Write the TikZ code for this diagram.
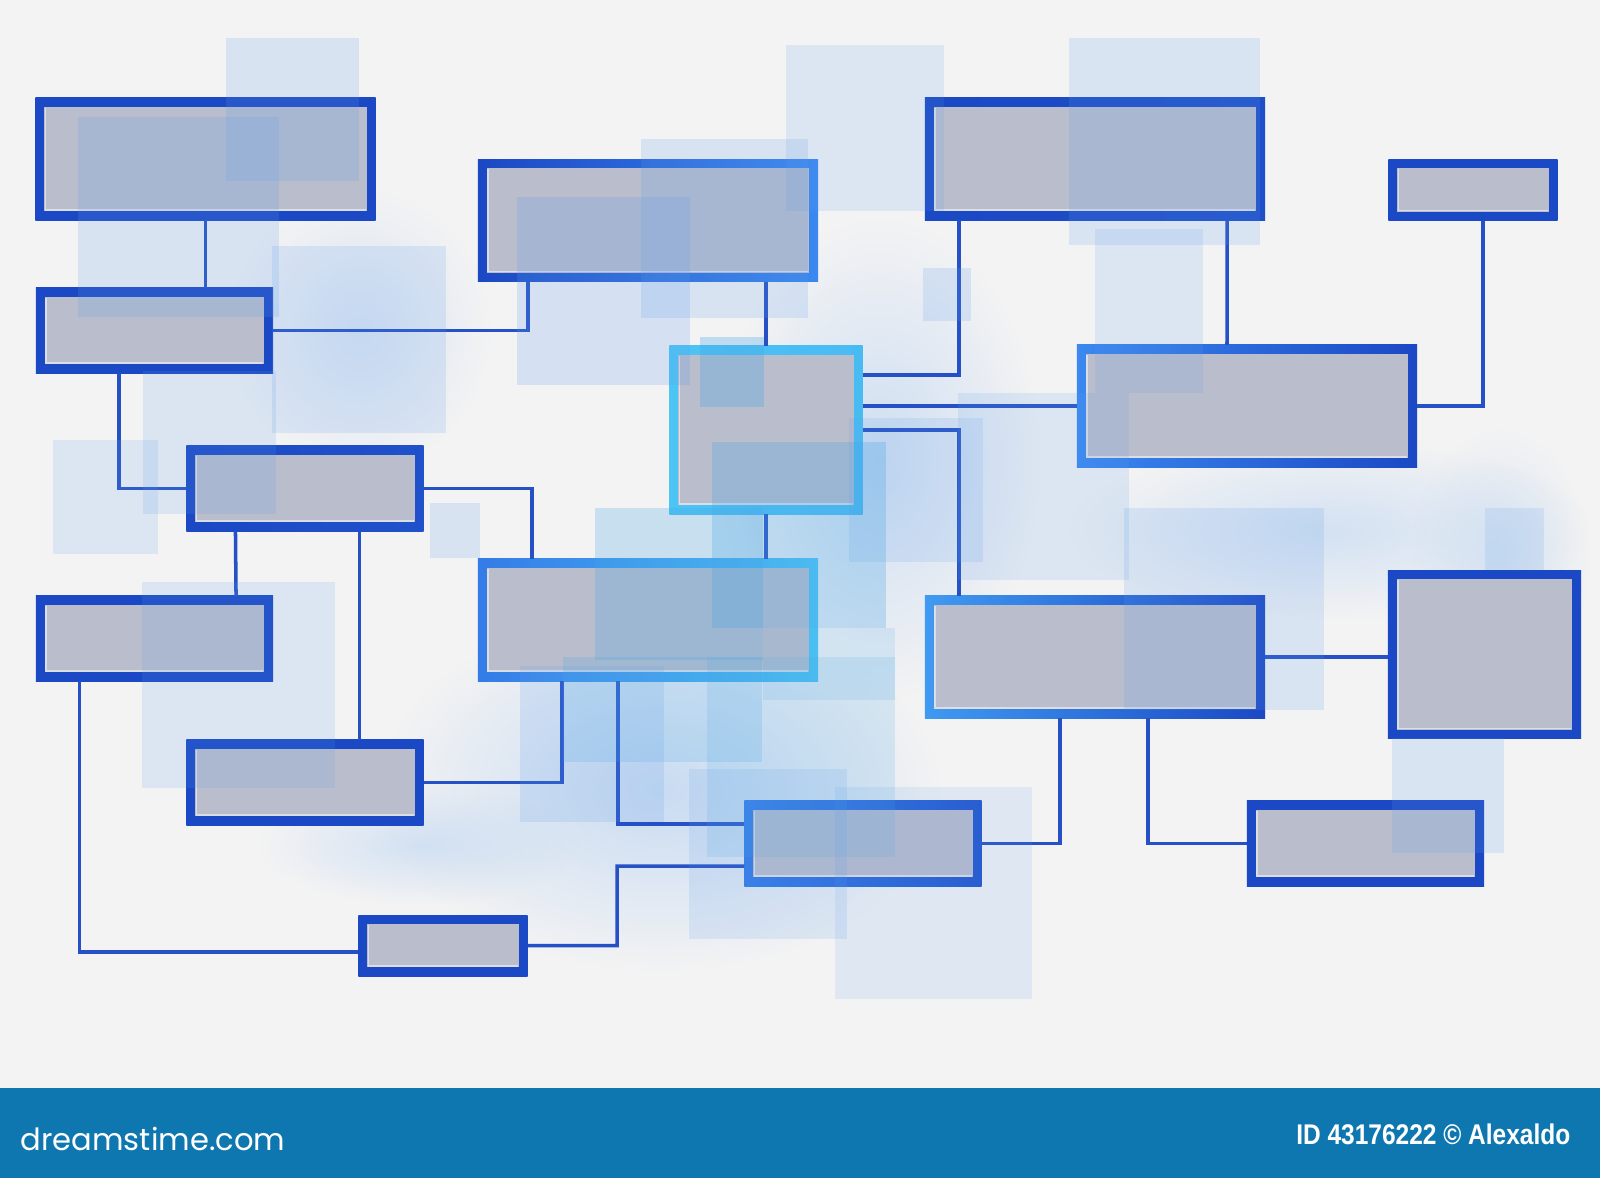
\documentclass[tikz,border=0pt]{standalone}
\usepackage{fontspec}
\usepackage{graphicx}
\usetikzlibrary{fadings}

\definecolor{paper}{HTML}{F3F3F4}
\definecolor{boxgray}{HTML}{B9BDCC}
\definecolor{deepblue}{HTML}{1B48C4}
\definecolor{midblue}{HTML}{3A88F0}
\definecolor{skyblue}{HTML}{4CC4F4}
\definecolor{linkblue}{HTML}{2651C6}
\definecolor{tintblue}{HTML}{5E9CEB}
\definecolor{tintcyan}{HTML}{4AA6E6}
\definecolor{hazeblue}{HTML}{BED6F2}
\definecolor{footblue}{HTML}{0F77B0}
\newfontfamily\logofont{Poppins}
\newfontfamily\idfont{Liberation Sans}
\tikzfading[name=glowfade, inner color=transparent!0, outer color=transparent!100]

\tikzset{
	flowbox/.style 2 args={rectangle, inner sep=0pt, outer sep=0pt,
		left color=#1, right color=#2,
		path picture={
			\fill[boxgray] ([shift={(0.09cm,0.09cm)}]path picture bounding box.south west)
				rectangle ([shift={(-0.09cm,-0.09cm)}]path picture bounding box.north east);
			\draw[white, opacity=0.5, line width=0.5pt]
				([shift={(0.1cm,-0.1cm)}]path picture bounding box.north west)
				|- ([shift={(-0.1cm,0.1cm)}]path picture bounding box.south east);
		}},
	bigbox/.style={minimum width=3.40cm, minimum height=1.22cm},
	midbox/.style={minimum width=2.37cm, minimum height=0.85cm},
	smallbox/.style={minimum width=1.69cm, minimum height=0.61cm},
	squarebox/.style={minimum width=1.93cm, minimum height=1.68cm},
	link/.style={draw=linkblue, line width=1pt},
	haze/.style={fill=hazeblue, path fading=glowfade},
}

\begin{document}
\begin{tikzpicture}[x=0.01cm, y=-0.01cm]
	\useasboundingbox (0,0) rectangle (1600,1178);
	\fill[paper] (0,0) rectangle (1600,1088);

	% soft glow behind the chart
	\fill[haze, opacity=0.8] (660,790) ellipse (280 and 180);
	\fill[haze, opacity=0.7] (880,460) ellipse (160 and 240);
	\fill[haze, opacity=0.6] (1330,530) ellipse (260 and 90);
	\fill[haze, opacity=0.6] (420,845) ellipse (160 and 60);
	\fill[haze, opacity=0.5] (1500,560) ellipse (90 and 130);
	\fill[haze, opacity=0.5] (360,330) ellipse (130 and 140);

	% boxes
	\node[flowbox={deepblue}{deepblue}, bigbox] (BOX_A) at (205.5,159) {};
	\node[flowbox={deepblue}{midblue}, bigbox] (BOX_B) at (648,220.5) {};
	\node[flowbox={deepblue}{deepblue}, midbox] (BOX_C) at (154.5,330.5) {};
	\node[flowbox={deepblue}{deepblue!85!midblue}, midbox] (BOX_D) at (305,488.5) {};
	\node[flowbox={skyblue}{skyblue!85!midblue}, squarebox] (BOX_E) at (766,430) {};
	\node[flowbox={midblue!80!deepblue}{skyblue}, bigbox] (BOX_F) at (648,620) {};
	\node[flowbox={deepblue}{deepblue!90!midblue}, bigbox] (BOX_G) at (1095,159) {};
	\node[flowbox={deepblue}{deepblue}, smallbox] (BOX_H) at (1473,190) {};
	\node[flowbox={midblue}{deepblue}, bigbox] (BOX_I) at (1247,406) {};
	\node[flowbox={midblue!70!skyblue}{deepblue}, bigbox] (BOX_J) at (1095,657) {};
	\node[flowbox={deepblue}{deepblue}, midbox] (BOX_K) at (154.5,638.5) {};
	\node[flowbox={deepblue}{deepblue}, midbox] (BOX_L) at (305,782.5) {};
	\node[flowbox={deepblue}{deepblue}, smallbox] (BOX_M) at (443,945.5) {};
	\node[flowbox={midblue!80!deepblue}{deepblue!80!midblue}, midbox] (BOX_N) at (863,843.5) {};
	\node[flowbox={deepblue}{deepblue}, squarebox] (BOX_O) at (1484.5,654.5) {};
	\node[flowbox={deepblue}{deepblue}, midbox] (BOX_P) at (1365.5,843.5) {};
	\coordinate (BEND_MN) at (617,866);

	% connectors
	\draw[link] (BOX_A.south) -- (BOX_A.south |- BOX_C.north);
	\draw[link] (BOX_C.east) -| ([xshift=0.50cm]BOX_B.south west);
	\draw[link] ([xshift=0.83cm]BOX_C.south west) |- (BOX_D.west);
	\draw[link] (BOX_B.south -| BOX_E.north) -- (BOX_E.north);
	\draw[link] (BOX_D.east) -| ([xshift=0.54cm]BOX_F.north west);
	\draw[link] (BOX_E.south) -- (BOX_E.south |- BOX_F.north);
	\draw[link] ([xshift=0.34cm]BOX_G.south west) |- ([yshift=-0.29cm]BOX_E.north east);
	\draw[link] (BOX_E.east |- BOX_I.west) -- (BOX_I.west);
	\draw[link] (BOX_E.east) -| ([xshift=0.34cm]BOX_J.north west);
	\draw[link] ([xshift=1.32cm]BOX_G.south) -- ([xshift=-0.20cm]BOX_I.north);
	\draw[link] ([xshift=0.10cm]BOX_H.south) |- (BOX_I.east);
	\draw[link] ([xshift=0.49cm]BOX_D.south west) -- ([xshift=-0.37cm]BOX_K.north east);
	\draw[link] ([xshift=1.73cm]BOX_D.south west) -- ([xshift=1.73cm]BOX_L.north west);
	\draw[link] ([xshift=0.435cm]BOX_K.south west) |- ([yshift=-0.065cm]BOX_M.west);
	\draw[link] (BOX_L.east) -| ([xshift=0.84cm]BOX_F.south west);
	\draw[link] ([xshift=1.40cm]BOX_F.south west) |- ([yshift=0.195cm]BOX_N.west);
	\draw[link] (BOX_M.east) -| (BEND_MN) -- ([yshift=-0.225cm]BOX_N.west);
	\draw[link] (BOX_J.east) -- (BOX_J.east -| BOX_O.west);
	\draw[link] ([xshift=1.35cm]BOX_J.south west) |- (BOX_N.east);
	\draw[link] ([xshift=2.23cm]BOX_J.south west) |- (BOX_P.west);

	% see-through squares over everything
	\foreach \xa/\ya/\xb/\yb/\op in {
		226/38/359/181/0.18, 78/117/279/317/0.18, 272/246/446/433/0.16,
		143/371/276/514/0.16, 53/440/158/554/0.15, 430/503/480/558/0.18,
		517/197/690/385/0.20, 641/139/808/318/0.18, 786/45/944/211/0.15,
		1069/38/1260/245/0.17, 1095/229/1203/393/0.15, 923/268/971/321/0.18,
		958/393/1129/580/0.15, 849/418/983/562/0.15, 1124/508/1324/710/0.17,
		1485/508/1544/570/0.15, 1392/738/1504/853/0.17, 835/787/1032/999/0.13,
		689/769/847/939/0.15, 142/582/335/788/0.15, 520/666/664/822/0.17}
		\fill[tintblue, opacity=\op] (\xa,\ya) rectangle (\xb,\yb);
	\foreach \xa/\ya/\xb/\yb/\op in {
		700/337/764/407/0.30, 712/442/886/628/0.28, 595/508/763/660/0.25,
		563/657/762/762/0.20, 707/657/895/857/0.16, 763/628/895/700/0.15}
		\fill[tintcyan, opacity=\op] (\xa,\ya) rectangle (\xb,\yb);

	% footer
	\fill[footblue] (0,1088) rectangle (1600,1178);
	\node[anchor=base west, inner sep=0pt, text=white,
		font=\logofont\fontsize{8.7}{10}\selectfont] (FOOT_LOGO) at (20,1150) {dreamstime.com};
	\node[anchor=base east, inner sep=0pt, text=white,
		font=\idfont\bfseries\fontsize{8.1}{10}\selectfont] (FOOT_ID) at (1571,1144)
		{\scalebox{0.86}[1]{ID 43176222 © Alexaldo}};
\end{tikzpicture}
\end{document}
